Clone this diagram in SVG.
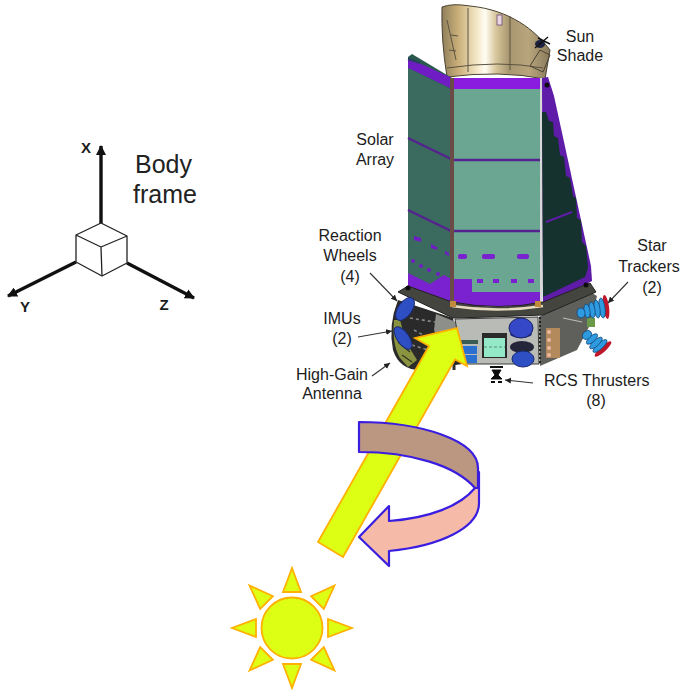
<svg xmlns="http://www.w3.org/2000/svg" width="685" height="690" viewBox="0 0 685 690">
<defs>
<style>
text{font-family:"Liberation Sans",Arial,sans-serif;font-size:16px;fill:#1c1c1c;text-anchor:middle}
.ax{font-weight:bold;font-size:15px}
.big{font-size:25px;text-anchor:start;fill:#222}
.axis{stroke:#111;stroke-width:3.4;fill:none}
.cube{stroke:#222;stroke-width:1.3;fill:#fff;stroke-linejoin:round}
.lead{stroke:#333;stroke-width:1.1;fill:none;marker-end:url(#lead)}
.sunfill{fill:#dcff14;stroke:#ffb000;stroke-width:1.8;stroke-linejoin:miter}
.rib{stroke:#3a1ee0;stroke-width:2.2;stroke-linejoin:round}
.p{fill:#6f1fc4}
.d{fill:#7a22d0}
.s{stroke:#55208f;stroke-width:2.4;fill:none}
.blue{fill:#2f4fc4;stroke:#1b2a70;stroke-width:1}
.lb{fill:#2f9be0;stroke:#134a80;stroke-width:.8}
</style>
<marker id="lead" markerWidth="7" markerHeight="7" refX="6" refY="3" orient="auto" markerUnits="userSpaceOnUse"><path d="M0,0 L6,3 L0,6 Z" fill="#222"/></marker>
<marker id="ah" markerWidth="11" markerHeight="10" refX="9" refY="5" orient="auto" markerUnits="userSpaceOnUse"><path d="M0,0 L10,5 L0,10 Z" fill="#111"/></marker>
<linearGradient id="shade" x1="0" x2="1" y1="0" y2="0">
<stop offset="0" stop-color="#8f7f5c"/><stop offset=".15" stop-color="#c9ae78"/><stop offset=".32" stop-color="#f2e6c4"/><stop offset=".4" stop-color="#fffdf4"/><stop offset=".5" stop-color="#d8c69c"/><stop offset=".62" stop-color="#a89670"/><stop offset=".8" stop-color="#b8a57c"/><stop offset="1" stop-color="#8a7b5c"/>
</linearGradient>
<filter id="soft" x="-5%" y="-5%" width="110%" height="110%"><feGaussianBlur stdDeviation="0.55"/></filter>
</defs>
<rect width="685" height="690" fill="#fff"/>

<g id="body-frame">
<path class="axis" d="M101,224 L101,146" marker-end="url(#ah)"/>
<path class="axis" d="M76,262 L8,296" marker-end="url(#ah)"/>
<path class="axis" d="M127,263 L194,298" marker-end="url(#ah)"/>
<path class="cube" d="M101,223 L127,236 L127,263 L102,276 L76,262 L76,235 Z"/>
<path class="cube" fill="none" d="M76,235 L101,247 L127,236 M101,247 L102,276"/>
<text class="ax" x="86" y="153">X</text>
<text class="ax" x="25" y="312">Y</text>
<text class="ax" x="164" y="310">Z</text>
<text class="big" x="135" y="173">Body</text>
<text class="big" x="133" y="203">frame</text>
</g>

<g id="spacecraft" filter="url(#soft)">
<path id="sun-shade" d="M442,7 Q452,3 470,6 C510,10 535,30 550,50 L545,79 Q500,70 447,77 Q441,40 442,7 Z" fill="url(#shade)" stroke="#4a4232" stroke-width="1"/>
<path d="M447,20 L456,60 M468,8 V72 M510,16 V70 M451,35 L458,36 M449,50 L456,51 M447,68 Q500,60 543,68" stroke="#5c5342" stroke-width="1" fill="none"/>
<path d="M530,66 L540,50 L550,55 L543,72 Z" fill="none" stroke="#4a4232"/>
<ellipse cx="540" cy="44" rx="5" ry="4" fill="#1d2340"/>
<path d="M535,48 L548,37 M538,38 L550,44" stroke="#111" stroke-width="1.4"/>
<rect x="497" y="15" width="5" height="10" fill="#e8d5df" stroke="#6b4a78" stroke-width=".8"/>

<path d="M408,57 L412,54 L452,78 L452,303 L408,290 Z" fill="#2b5a50"/>
<path d="M408,58 L430,68 L452,78 L452,89 L408,68 Z" class="p"/>
<path d="M408,68 L451,89 L451,296 L408,276 Z" fill="#3a6a5f"/>
<path class="s" d="M408,138 L451,159 M408,210 L451,231"/>
<path d="M408,273 L430,284 L444,275 L453,280 L453,304 L408,291 Z" class="d"/>
<path d="M408,59 L420,63" stroke="#27415c" stroke-width="2"/>
<g class="p">
<path d="M414,236 L421,238 L421,242 L414,240 Z M431,244 L437,247 L437,250 L431,248 Z M445,251 L449,253 L449,256 L445,254 Z"/>
<circle cx="413" cy="261" r="2"/><circle cx="421" cy="266" r="2"/><circle cx="429" cy="270" r="2"/><circle cx="438" cy="274" r="2"/>
</g>
<rect x="450" y="78" width="4" height="228" fill="#6b4c45"/>

<rect x="454" y="78" width="86" height="228" fill="#6aa692"/>
<rect x="454" y="78" width="86" height="11" fill="#8a1fe0"/>
<path class="s" d="M454,160 H540 M454,231 H540"/>
<path d="M454,279 H472 V292 H540 V306 H454 Z" class="d"/>
<g class="d">
<rect x="458" y="254" width="9" height="5" rx="2"/><rect x="482" y="254" width="13" height="5" rx="2"/><rect x="517" y="254" width="12" height="5" rx="2"/>
<rect x="477" y="279" width="6" height="4"/><rect x="493" y="279" width="6" height="4"/><rect x="511" y="279" width="6" height="4"/><rect x="528" y="279" width="6" height="4"/>
</g>
<rect x="540" y="78" width="2.5" height="228" fill="#d8d8d8"/>

<path d="M542,78 L548,77 L554,96 L591,266 L592,281 L543,306 Z" fill="#5e1aa8"/>
<path d="M542,112 L546,112 L549,121 L553,122 L554,136 L558,138 L560,155 L564,157 L566,176 L570,178 L573,196 L576,198 L577,218 L581,220 L582,242 L586,246 L588,268 L585,277 L543,297 Z" fill="#15332e"/>
<path d="M546,222 L572,212" stroke="#5e1aa8" stroke-width="2" fill="none"/>
<circle cx="547" cy="85" r="2.5" fill="#111"/>

<path id="bus-left" d="M398,300 L453,318 L458,345 L462,364 L425,370 Q400,372 393,350 Q388,325 398,300 Z" fill="#2c2c2a"/>
<path d="M394,320 Q392,345 400,358 L408,367 L417,360 L406,342 L400,320 Z" fill="#8a9440"/>
<path d="M396,330 L404,336 M398,342 L410,352 M402,355 L412,362" stroke="#33331f" stroke-width="1.2"/>
<path d="M436,314 L456,322 L458,345 L442,348 L434,330 Z" fill="#8d8f8a"/>
<path d="M410,318 L435,322 M414,330 L432,340 M412,345 L428,350" stroke="#888" stroke-width="1.6" stroke-dasharray="3 3"/>
<path id="bus-center" d="M455,319 L538,317 L539,364 L463,364 Z" fill="#b9bcb6" stroke="#3a3a38" stroke-width="1"/>
<path id="bus-right" d="M539,317 L587,290 L597,296 L590,325 L577,350 L540,366 Z" fill="#5f5f5b"/>
<path d="M540,317 V365" stroke="#222" stroke-width="2" stroke-dasharray="2 2"/>
<path id="ring" d="M398,292 L408,286 L452,302 Q500,311 543,302 L590,283 L596,292 L543,315 L490,317 L453,318 Z" fill="#45453f" stroke="#222" stroke-width="1"/>
<path d="M452,306 Q497,313 543,306" stroke="#e8dcc0" stroke-width="2.4" fill="none"/>
<rect x="450" y="301" width="6" height="6" fill="#c08a3c"/><rect x="535" y="301" width="6" height="6" fill="#c08a3c"/>
<circle cx="408" cy="288" r="2.5" fill="#111"/><circle cx="586" cy="285" r="2.5" fill="#111"/>

<rect x="460" y="340" width="18" height="4" fill="#3b5b55"/>
<rect x="462" y="346" width="15" height="8" fill="#2a70d0"/><rect x="462" y="355" width="15" height="8" fill="#2a70d0"/>
<rect x="482" y="333" width="25" height="25" fill="#2b2b2b"/>
<rect x="484" y="338" width="21" height="19" fill="#93e8c8"/>
<path d="M484,347 H505" stroke="#5a8b7a" stroke-dasharray="3 2"/>
<ellipse cx="522" cy="347" rx="12" ry="6" fill="#26263a"/>
<ellipse cx="521" cy="334" rx="11" ry="4" fill="#1a2a80"/>
<ellipse cx="521" cy="328" rx="12" ry="10" fill="#3449c8" stroke="#1a2260"/>
<ellipse cx="523" cy="359" rx="11" ry="8" class="blue"/>
<rect x="546" y="328" width="14" height="30" fill="#b28a5c"/>
<g fill="#f0b8a0"><circle cx="549" cy="332" r="2"/><circle cx="549" cy="340" r="2"/><circle cx="549" cy="348" r="2"/><circle cx="549" cy="355" r="2"/></g>
<path d="M563,318 L582,322" stroke="#bbb" stroke-width="1.2"/>
<rect x="587" y="318" width="8" height="9" fill="#6a9a4a"/>

<ellipse cx="405" cy="309" rx="7" ry="13" transform="rotate(35 405 309)" class="blue"/>
<ellipse cx="403" cy="338" rx="6" ry="13" transform="rotate(-35 403 338)" class="blue"/>

<g id="star-trackers">
<ellipse cx="606" cy="307" rx="3" ry="12" transform="rotate(-8 606 307)" fill="#c0182c"/>
<ellipse cx="602" cy="308" rx="3" ry="10" transform="rotate(-8 602 308)" class="lb"/>
<ellipse cx="597" cy="309" rx="3" ry="9" transform="rotate(-8 597 309)" class="lb"/>
<ellipse cx="592" cy="310" rx="3" ry="8" transform="rotate(-8 592 310)" class="lb"/>
<ellipse cx="587" cy="311" rx="3" ry="7" transform="rotate(-8 587 311)" class="lb"/>
<ellipse cx="581" cy="313" rx="4" ry="5" transform="rotate(-8 581 313)" class="lb"/>
<ellipse cx="603" cy="349" rx="3" ry="11" transform="rotate(48 603 349)" fill="#c0182c"/>
<ellipse cx="600" cy="346" rx="3" ry="9" transform="rotate(48 600 346)" class="lb"/>
<ellipse cx="596" cy="343" rx="3" ry="8" transform="rotate(48 596 343)" class="lb"/>
<ellipse cx="592" cy="339" rx="3" ry="7" transform="rotate(48 592 339)" class="lb"/>
<ellipse cx="587" cy="335" rx="4" ry="5" transform="rotate(48 587 335)" class="lb"/>
</g>
<g id="rcs-thruster" stroke="#111" fill="#111">
<path d="M490,367 H503" stroke-width="2" fill="none"/>
<path d="M492,370 H501 L498,375 L502,379 H491 L495,375 Z" stroke-width="1"/>
<path d="M491,382 H495 M498,382 H502" stroke-width="2" fill="none"/>
</g>
<path d="M454,364 V370" stroke="#333" stroke-width="3"/>
</g>

<g id="connectors">
<path class="lead" d="M370,273 L397,301"/>
<path class="lead" d="M358,337 L392,331"/>
<path class="lead" d="M372,376 L390,363"/>
<path class="lead" d="M533,383 L505,380"/>
<path class="lead" d="M628,282 L608,303"/>
</g>

<g id="sunlight-arrow">
<path class="sunfill" d="M318,542 L429,346 L415,338 L457,328 L467,366 L455,359.5 L343,557 Z"/>
</g>

<g id="rotation-arrow">
<path class="rib" fill="#f5bba8" d="M475,488 C460,506 430,518 389,521 L389,506 L359,537 L389,566 L389,551 C440,546 479,528 479,503 L479,472 Z"/>
<path class="rib" fill="#bb9680" d="M359,422 C420,422 478,440 478,468 L478,488 L475,488 C455,465 410,452 359,452 Z"/>
</g>

<g id="sun">
<circle class="sunfill" cx="292" cy="628" r="30.5"/>
<g id="rays">
<path id="ray" class="sunfill" d="M292,568 L283,592 L301,592 Z"/>
<use href="#ray" transform="rotate(45 292 628)"/>
<use href="#ray" transform="rotate(90 292 628)"/>
<use href="#ray" transform="rotate(135 292 628)"/>
<use href="#ray" transform="rotate(180 292 628)"/>
<use href="#ray" transform="rotate(225 292 628)"/>
<use href="#ray" transform="rotate(270 292 628)"/>
<use href="#ray" transform="rotate(315 292 628)"/>
</g>
</g>

<g id="labels">
<text x="580" y="42">Sun</text><text x="580" y="61">Shade</text>
<text x="375" y="145">Solar</text><text x="375" y="165">Array</text>
<text x="350" y="241">Reaction</text><text x="350" y="261">Wheels</text><text x="350" y="282">(4)</text>
<text x="342" y="324">IMUs</text><text x="342" y="344">(2)</text>
<text x="332" y="380">High-Gain</text><text x="332" y="399">Antenna</text>
<text x="544" y="386" style="text-anchor:start">RCS Thrusters</text><text x="596" y="406">(8)</text>
<text x="652" y="251">Star</text><text x="649" y="272">Trackers</text><text x="652" y="293">(2)</text>
</g>
</svg>
